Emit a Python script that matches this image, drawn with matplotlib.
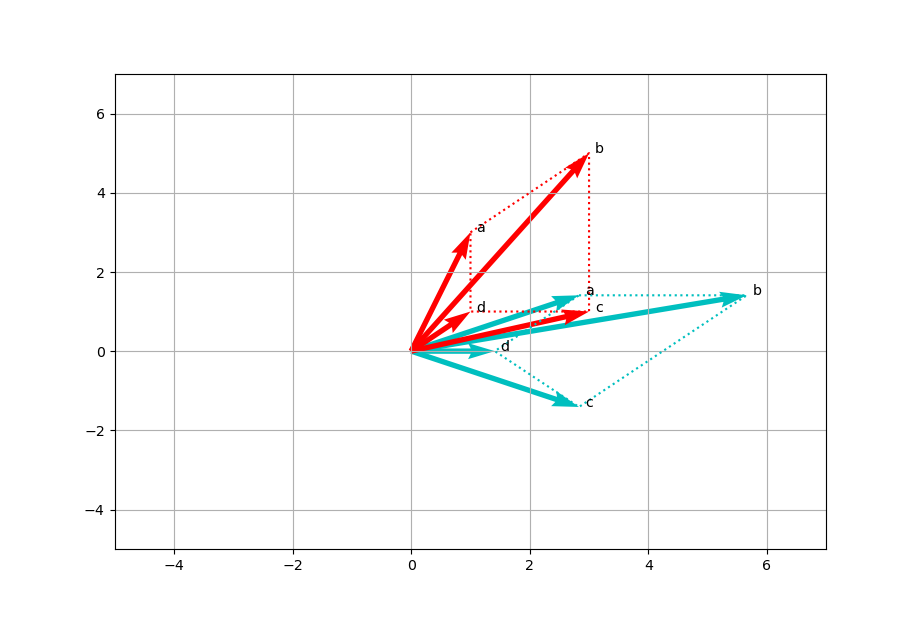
import numpy as np
import matplotlib.pyplot as plt

# Original vectors (red) and the rotated vectors (cyan)
labels = ['a', 'b', 'c', 'd']
orig_x = [1, 3, 3, 1]
orig_y = [3, 5, 1, 1]
rot_x = [2.83, 5.66, 2.83, 1.41]
rot_y = [1.41, 1.41, -1.41, 0.0]

fig = plt.figure(figsize=(9, 6.05), dpi=102)
ax = fig.add_subplot(111)

ax.quiver(np.zeros(4), np.zeros(4), rot_x, rot_y, color='c',
          angles='xy', scale_units='xy', scale=1)
ax.quiver(np.zeros(4), np.zeros(4), orig_x, orig_y, color='r',
          angles='xy', scale_units='xy', scale=1)

# dotted outline joining the tips
ax.plot(orig_x + orig_x[:1], orig_y + orig_y[:1], 'r:')
ax.plot(rot_x + rot_x[:1], rot_y + rot_y[:1], 'c:')

for i, lab in enumerate(labels):
    ax.text(orig_x[i] + 0.1, orig_y[i], lab)
    ax.text(rot_x[i] + 0.1, rot_y[i], lab)

ax.set_xlim(-5, 7)
ax.set_ylim(-5, 7)
ax.grid(True)

fig.savefig('out.png')
